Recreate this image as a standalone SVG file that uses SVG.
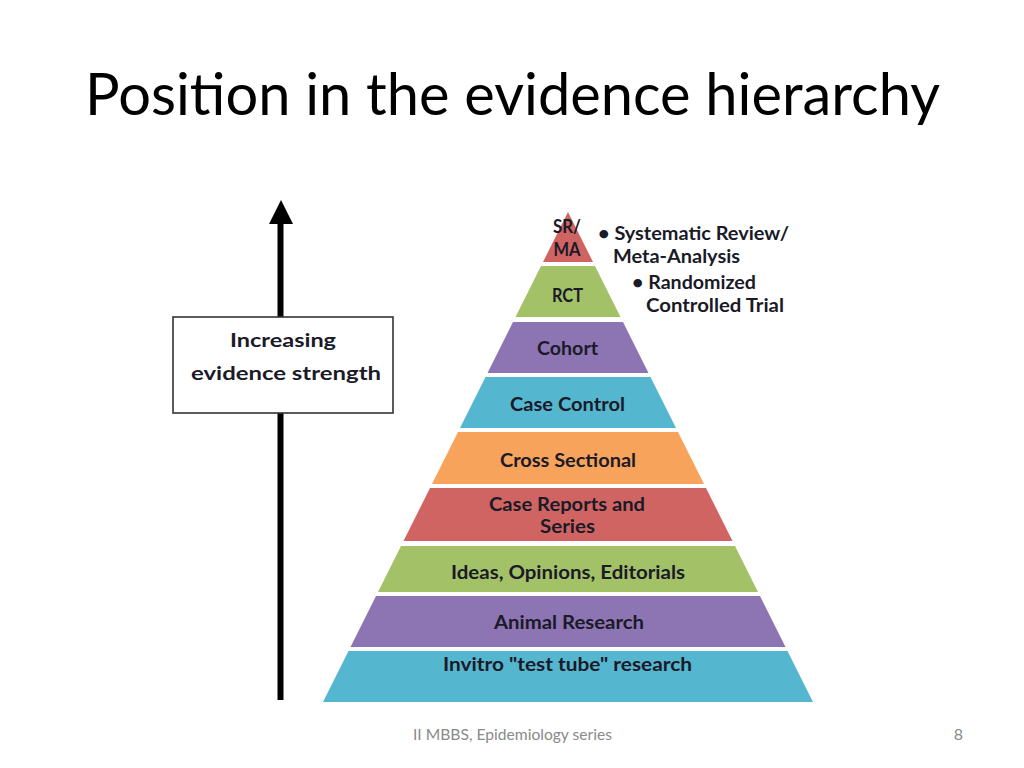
<svg xmlns="http://www.w3.org/2000/svg" width="1024" height="768" viewBox="0 0 1024 768">
<style>
  .title { font-family: Lato, "Open Sans", "Liberation Sans", sans-serif; font-size: 58px; fill: #000; }
  .lbl { font-family: Lato, "Liberation Sans", sans-serif; font-weight: 700; font-size: 19px; fill: #1a1a28; text-anchor: middle; }
  .sm { font-size: 18px; }
  .note { font-family: Lato, "Liberation Sans", sans-serif; font-weight: 700; font-size: 19px; fill: #1a1a28; }
  .box { fill: #fff; stroke: #333; stroke-width: 1.6; }
  .foot { font-family: Lato, "Liberation Sans", sans-serif; font-size: 16px; fill: #8a8a8a; }
  .red { fill: #cf6462; }
  .green { fill: #a3c166; }
  .purple { fill: #8d74b3; }
  .blue { fill: #55b6cf; }
  .orange { fill: #f7a35c; }
</style>
<rect width="1024" height="768" fill="#fff"/>
<text class="title" x="85" y="115" textLength="855" lengthAdjust="spacingAndGlyphs">Position in the evidence hierarchy</text>

<g id="connectors">
  <line x1="280.5" y1="700" x2="280.5" y2="220" stroke="#000" stroke-width="6"/>
  <polygon points="281,200 269,224 293,224" fill="#000"/>
</g>

<g id="node-strength">
  <rect class="box" x="173" y="317" width="220" height="96"/>
  <text class="note" x="283" y="347" text-anchor="middle" font-size="20" textLength="106" lengthAdjust="spacingAndGlyphs">Increasing</text>
  <text class="note" x="286" y="380" text-anchor="middle" font-size="20" textLength="190" lengthAdjust="spacingAndGlyphs">evidence strength</text>
</g>

<g id="node-srma">
  <polygon class="red" points="568,212 593,262 543,262"/>
  <text class="lbl sm" x="567" y="233" textLength="28" lengthAdjust="spacingAndGlyphs">SR/</text>
  <text class="lbl sm" x="567" y="256" textLength="27" lengthAdjust="spacingAndGlyphs">MA</text>
</g>
<g id="node-rct">
  <polygon class="green" points="541,266 595,266 620.5,317 515.5,317"/>
  <text class="lbl" x="567.5" y="302" textLength="31" lengthAdjust="spacingAndGlyphs">RCT</text>
</g>
<g id="node-cohort">
  <polygon class="purple" points="513,322 623,322 648.5,373 487.5,373"/>
  <text class="lbl" x="567.5" y="355" textLength="61" lengthAdjust="spacingAndGlyphs">Cohort</text>
</g>
<g id="node-casecontrol">
  <polygon class="blue" points="485.5,377 650.5,377 676,428 460,428"/>
  <text class="lbl" x="567.5" y="411" textLength="115" lengthAdjust="spacingAndGlyphs">Case Control</text>
</g>
<g id="node-crosssectional">
  <polygon class="orange" points="458,432 678,432 704,484 432,484"/>
  <text class="lbl" x="568" y="467" textLength="136" lengthAdjust="spacingAndGlyphs">Cross Sectional</text>
</g>
<g id="node-casereports">
  <polygon class="red" points="430,488 706,488 732.5,541 403.5,541"/>
  <text class="lbl" x="567" y="511" textLength="156" lengthAdjust="spacingAndGlyphs">Case Reports and</text>
  <text class="lbl" x="567.5" y="533" textLength="55" lengthAdjust="spacingAndGlyphs">Series</text>
</g>
<g id="node-ideas">
  <polygon class="green" points="401,546 735,546 758,592 378,592"/>
  <text class="lbl" x="568" y="579" textLength="234" lengthAdjust="spacingAndGlyphs">Ideas, Opinions, Editorials</text>
</g>
<g id="node-animal">
  <polygon class="purple" points="376,596 760,596 785.5,647 350.5,647"/>
  <text class="lbl" x="569" y="629" textLength="150" lengthAdjust="spacingAndGlyphs">Animal Research</text>
</g>
<g id="node-invitro">
  <polygon class="blue" points="348.5,651 787.5,651 813,702 323,702"/>
  <text class="lbl" x="567.5" y="671" textLength="249" lengthAdjust="spacingAndGlyphs">Invitro "test tube" research</text>
</g>

<g id="node-legend">
  <text class="note" x="598" y="240" textLength="191" lengthAdjust="spacingAndGlyphs">• Systematic Review/</text>
  <text class="note" x="613" y="263" textLength="127" lengthAdjust="spacingAndGlyphs">Meta-Analysis</text>
  <text class="note" x="632" y="289" textLength="124" lengthAdjust="spacingAndGlyphs">• Randomized</text>
  <text class="note" x="646" y="312" textLength="138" lengthAdjust="spacingAndGlyphs">Controlled Trial</text>
</g>

<text class="foot" x="413" y="740" textLength="199" lengthAdjust="spacingAndGlyphs">II MBBS, Epidemiology series</text>
<text class="foot" x="963" y="740" text-anchor="end">8</text>
</svg>
